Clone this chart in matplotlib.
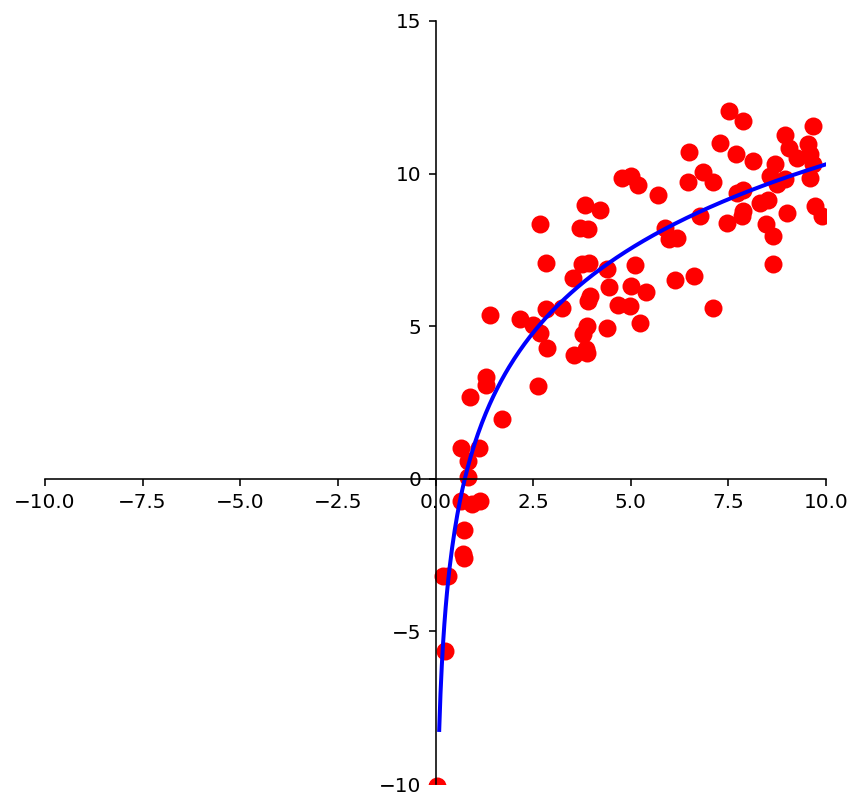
import matplotlib
matplotlib.use("Agg")
import matplotlib.pyplot as plt
import numpy as np

# scatter data
x_pts = [0.04, 0.24, 0.19, 0.33, 0.71, 0.72, 0.74, 0.65, 0.93, 1.13,
         0.83, 0.83, 0.66, 1.11, 0.89, 1.29, 1.29, 1.40, 1.70, 2.63,
         2.16, 2.50, 2.68, 2.86, 2.83, 3.24, 2.68, 2.83, 3.52, 3.55,
         3.88, 3.86, 3.78, 3.88, 3.70, 3.91, 3.83, 4.21, 3.75, 3.93,
         3.91, 3.96, 4.39, 4.44, 4.39, 4.67, 4.98, 5.01, 5.11, 5.24,
         5.39, 4.78, 5.00, 5.19, 5.70, 5.88, 5.98, 6.18, 6.13, 6.62,
         7.11, 6.49, 6.47, 6.85, 7.11, 6.78, 7.47, 7.29, 7.52, 7.88,
         7.69, 8.13, 7.72, 7.88, 7.88, 7.85, 8.31, 8.52, 8.46, 8.64,
         8.64, 8.57, 8.69, 8.74, 8.95, 8.95, 9.05, 9.26, 9.00, 9.54,
         9.59, 9.67, 9.67, 9.59, 9.72, 9.90]
y_pts = [-10.05, -5.64, -3.18, -3.18, -2.46, -2.58, -1.68, -0.72, -0.82, -0.72,
         0.05, 0.58, 1.02, 1.02, 2.69, 3.34, 3.08, 5.37, 1.97, 3.05,
         5.22, 5.05, 4.78, 4.29, 5.57, 5.60, 8.36, 7.08, 6.59, 4.06,
         4.13, 4.26, 4.75, 5.01, 8.22, 8.19, 8.98, 8.81, 7.05, 7.08,
         5.83, 6.00, 6.88, 6.29, 4.95, 5.70, 5.67, 6.32, 7.01, 5.11,
         6.13, 9.86, 9.93, 9.63, 9.31, 8.22, 7.86, 7.90, 6.52, 6.65,
         5.60, 10.71, 9.73, 10.06, 9.73, 8.62, 8.39, 11.01, 12.06, 11.73,
         10.65, 10.42, 9.37, 9.47, 8.78, 8.62, 9.04, 9.14, 8.36, 7.96,
         7.04, 9.93, 10.32, 9.67, 9.83, 11.27, 10.85, 10.52, 8.72, 10.98,
         10.65, 11.57, 10.32, 9.86, 8.94, 8.62]

# fitted model y = a*ln(x) + b
fit_a, fit_b = 3.98, 1.14
x_fit = np.linspace(0.095, 10, 300)
y_fit = fit_a * np.log(x_fit) + fit_b

plt.rcParams["font.size"] = 10
fig = plt.figure(figsize=(862 / 144, 808 / 144), dpi=144)
ax = fig.add_axes([45 / 862, 24 / 808, 781 / 862, 763 / 808])

ax.plot(x_pts, y_pts, "o", color="red", ms=8)
ax.plot(x_fit, y_fit, color="blue", lw=2)

ax.set_xlim(-10, 10)
ax.set_ylim(-10, 15)
ax.set_xticks(np.arange(-10, 10.1, 2.5))
ax.set_yticks([-10, -5, 0, 5, 10, 15])

ax.spines["left"].set_position(("data", 0))
ax.spines["bottom"].set_position(("data", 0))
ax.spines["top"].set_visible(False)
ax.spines["right"].set_visible(False)

fig.savefig("out.png", dpi=144)
plt.close(fig)
